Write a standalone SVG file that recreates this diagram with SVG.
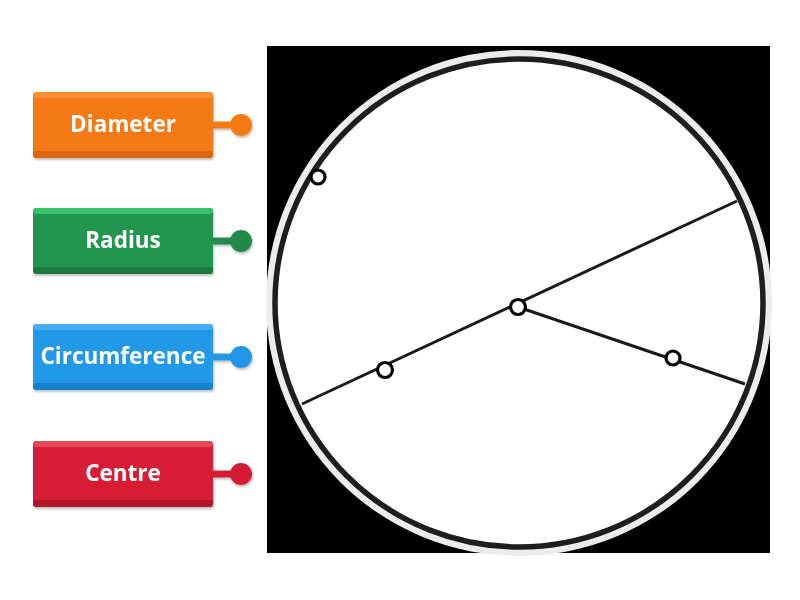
<svg xmlns="http://www.w3.org/2000/svg" width="800" height="600" viewBox="0 0 800 600">
<defs>
<style>
.lbl{font-family:"Open Sans","Noto Sans",sans-serif;font-weight:700;font-size:22.5px;fill:#ffffff;text-anchor:middle}
.pt{fill:#ffffff;stroke:#000;stroke-width:3.2}
.seg{stroke:#1a1a1a;stroke-width:3;fill:none}
</style>
<filter id="sh" x="-10%" y="-10%" width="130%" height="140%">
<feDropShadow dx="1" dy="2" stdDeviation="1.2" flood-color="#000" flood-opacity="0.25"/>
</filter>
</defs>
<rect width="800" height="600" fill="#ffffff"/>
<g id="picture">
<rect x="267" y="46" width="503" height="507" fill="#000000"/>
<circle cx="519" cy="303" r="253" fill="#ececec"/>
<circle cx="519" cy="303" r="244" fill="#ffffff" stroke="#1e1e1e" stroke-width="5.5"/>
</g>
<g id="connectors">
<line class="seg" x1="302" y1="404" x2="737" y2="201"/>
<line class="seg" x1="518" y1="307" x2="745" y2="384"/>
</g>
<g id="points">
<circle class="pt" cx="318" cy="177" r="7"/>
<circle class="pt" cx="518" cy="307" r="7.5"/>
<circle class="pt" cx="385" cy="370" r="7.5"/>
<circle class="pt" cx="673" cy="358" r="7"/>
</g>
<g id="diameter" filter="url(#sh)">
<line x1="210" y1="125" x2="240" y2="125" stroke="#f57a15" stroke-width="7"/>
<circle cx="241" cy="125" r="11" fill="#f57a15"/>
<rect x="33" y="92" width="180" height="66" rx="4" fill="#f57a15"/>
<rect x="33" y="92" width="180" height="6" rx="3" fill="#fb8d33"/>
<rect x="33" y="151" width="180" height="7" rx="3" fill="#de6608"/>
<text class="lbl" x="123" y="132">Diameter</text>
</g>
<g id="radius" filter="url(#sh)">
<line x1="210" y1="241" x2="240" y2="241" stroke="#23894a" stroke-width="7"/>
<circle cx="241" cy="241" r="11" fill="#23894a"/>
<rect x="33" y="208" width="180" height="66" rx="4" fill="#249650"/>
<rect x="33" y="208" width="180" height="6" rx="3" fill="#34c06a"/>
<rect x="33" y="267" width="180" height="7" rx="3" fill="#1a7a3e"/>
<text class="lbl" x="123" y="248">Radius</text>
</g>
<g id="circumference" filter="url(#sh)">
<line x1="210" y1="357" x2="240" y2="357" stroke="#2196e6" stroke-width="7"/>
<circle cx="241" cy="357" r="11" fill="#2196e6"/>
<rect x="33" y="324" width="180" height="66" rx="4" fill="#2398e8"/>
<rect x="33" y="324" width="180" height="6" rx="3" fill="#45adf2"/>
<rect x="33" y="383" width="180" height="7" rx="3" fill="#1782cc"/>
<text class="lbl" x="123" y="364">Circumference</text>
</g>
<g id="centre" filter="url(#sh)">
<line x1="210" y1="474" x2="240" y2="474" stroke="#d41f35" stroke-width="7"/>
<circle cx="241" cy="474" r="11" fill="#d41f35"/>
<rect x="33" y="441" width="180" height="66" rx="4" fill="#d71f36"/>
<rect x="33" y="441" width="180" height="6" rx="3" fill="#e6475c"/>
<rect x="33" y="500" width="180" height="7" rx="3" fill="#b3162a"/>
<text class="lbl" x="123" y="481">Centre</text>
</g>
</svg>
